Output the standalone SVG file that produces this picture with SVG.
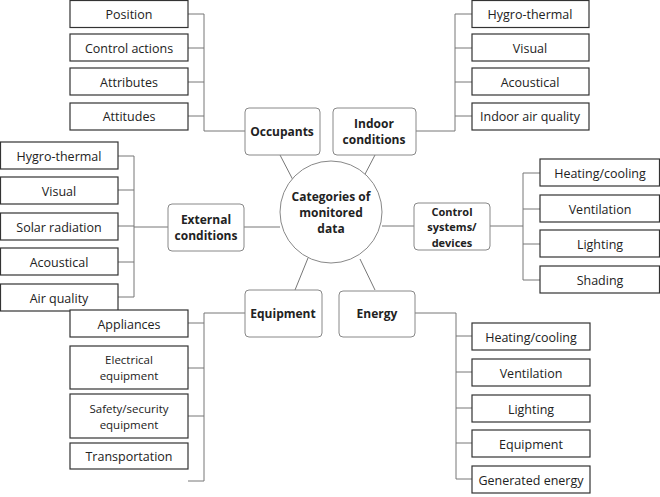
<svg xmlns="http://www.w3.org/2000/svg" width="660" height="497" viewBox="0 0 660 497">
<style>
text{font-family:"Open Sans","DejaVu Sans",sans-serif;font-size:12.5px;fill:#222;text-anchor:middle;dominant-baseline:central}
.b{font-weight:bold;font-size:12px}
.s{font-size:11.5px}
.bs{font-weight:bold;font-size:11px}
.leaf{fill:#fff;stroke:#333;stroke-width:1.2}
.cat{fill:#fff;stroke:#888;stroke-width:1}
#conn path{fill:none;stroke:#777;stroke-width:1}
</style>
<rect width="660" height="497" fill="#fff"/>
<g id="conn">
<path d="M188 14H204M188 48H204M188 82H204M188 116H204M204 14V131H245"/>
<path d="M589 14H455M589 48H455M589 82H455M589 116H455M455 14V131H416"/>
<path d="M118 156H134M118 190H134M118 226H134M118 262H134M118 297H134M134 156V297M134 227H168"/>
<path d="M540 173H523M540 209H523M540 244H523M540 280H523M523 173V280M523 226H490"/>
<path d="M245 313H204V481H188M188 323H204M188 368H204M188 416H204"/>
<path d="M415 313H456V479H472M456 336H472M456 372H472M456 408H472M456 443H472"/>
<path d="M280 155L293 180M375 155L363 178M244 227H280M382 226H414M295 290L308 258M375 290L360 259"/>
</g>
<g id="center"><circle cx="331" cy="212" r="51" fill="#fff" stroke="#888"/>
<text class="b" x="331" y="196">Categories of</text><text class="b" x="331" y="212">monitored</text><text class="b" x="331" y="228">data</text></g>
<g id="occupants"><rect class="cat" x="245" y="108" width="75" height="47" rx="4"/><text class="b" x="282" y="131">Occupants</text></g>
<g id="indoor"><rect class="cat" x="333" y="108" width="83" height="47" rx="4"/><text class="b" x="374" y="123">Indoor</text><text class="b" x="374" y="139">conditions</text></g>
<g id="external"><rect class="cat" x="168" y="204" width="76" height="47" rx="4"/><text class="b" x="206" y="219">External</text><text class="b" x="206" y="235">conditions</text></g>
<g id="control"><rect class="cat" x="414" y="203" width="76" height="47" rx="4"/><text class="bs" x="452" y="211">Control</text><text class="bs" x="452" y="226.5">systems/</text><text class="bs" x="452" y="242">devices</text></g>
<g id="equipment"><rect class="cat" x="245" y="290" width="77" height="47" rx="4"/><text class="b" x="283" y="313">Equipment</text></g>
<g id="energy"><rect class="cat" x="339" y="291" width="76" height="46" rx="4"/><text class="b" x="377" y="313">Energy</text></g>
<g id="occ-leaves">
<rect class="leaf" x="70" y="0.5" width="118" height="27"/><text x="129" y="14">Position</text>
<rect class="leaf" x="70" y="34" width="118" height="27"/><text x="129" y="48">Control actions</text>
<rect class="leaf" x="70" y="68" width="118" height="27"/><text x="129" y="82">Attributes</text>
<rect class="leaf" x="70" y="103" width="118" height="27"/><text x="129" y="116">Attitudes</text>
</g>
<g id="ind-leaves">
<rect class="leaf" x="472" y="0.5" width="117" height="27"/><text x="530" y="14">Hygro-thermal</text>
<rect class="leaf" x="472" y="34" width="117" height="27"/><text x="530" y="48">Visual</text>
<rect class="leaf" x="472" y="68" width="117" height="27"/><text x="530" y="82">Acoustical</text>
<rect class="leaf" x="472" y="103" width="117" height="27"/><text x="530" y="116">Indoor air quality</text>
</g>
<g id="ext-leaves">
<rect class="leaf" x="0.5" y="142" width="117.5" height="27"/><text x="59" y="156">Hygro-thermal</text>
<rect class="leaf" x="0.5" y="177" width="117.5" height="27"/><text x="59" y="191">Visual</text>
<rect class="leaf" x="0.5" y="213" width="117.5" height="27"/><text x="59" y="227">Solar radiation</text>
<rect class="leaf" x="0.5" y="248" width="117.5" height="27"/><text x="59" y="262">Acoustical</text>
<rect class="leaf" x="0.5" y="284" width="117.5" height="27"/><text x="59" y="298">Air quality</text>
</g>
<g id="ctl-leaves">
<rect class="leaf" x="540" y="159" width="119.5" height="27"/><text x="600" y="173">Heating/cooling</text>
<rect class="leaf" x="540" y="195" width="119.5" height="27"/><text x="600" y="209">Ventilation</text>
<rect class="leaf" x="540" y="230" width="119.5" height="27"/><text x="600" y="244">Lighting</text>
<rect class="leaf" x="540" y="266" width="119.5" height="27"/><text x="600" y="280">Shading</text>
</g>
<g id="equ-leaves">
<rect class="leaf" x="70" y="310" width="118" height="27"/><text x="129" y="324">Appliances</text>
<rect class="leaf" x="70" y="346" width="118" height="43"/><text class="s" x="129" y="359.5">Electrical</text><text class="s" x="129" y="375.5">equipment</text>
<rect class="leaf" x="70" y="394" width="118" height="44"/><text class="s" x="129" y="408">Safety/security</text><text class="s" x="129" y="424">equipment</text>
<rect class="leaf" x="70" y="443" width="118" height="26"/><text x="129" y="456">Transportation</text>
</g>
<g id="ene-leaves">
<rect class="leaf" x="472" y="323" width="118" height="27"/><text x="531" y="337">Heating/cooling</text>
<rect class="leaf" x="472" y="359" width="118" height="27"/><text x="531" y="373">Ventilation</text>
<rect class="leaf" x="472" y="395" width="118" height="27"/><text x="531" y="409">Lighting</text>
<rect class="leaf" x="472" y="430" width="118" height="27"/><text x="531" y="444">Equipment</text>
<rect class="leaf" x="472" y="466" width="118" height="27"/><text x="531" y="480">Generated energy</text>
</g>
</svg>
